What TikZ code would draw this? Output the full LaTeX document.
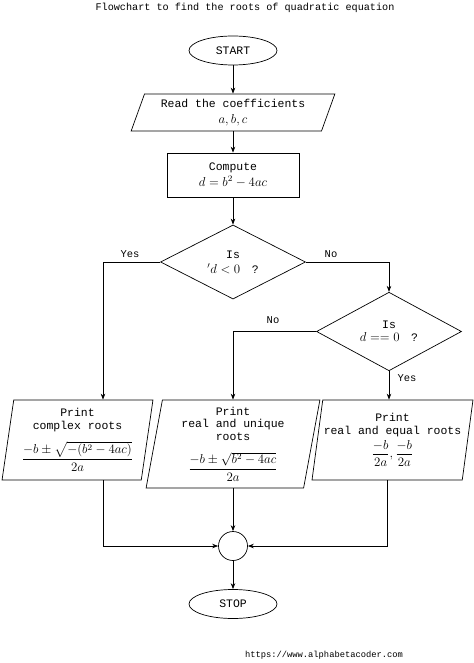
\documentclass[tikz,border=0pt]{standalone}
\usepackage{amsmath}
\usepackage{graphicx}
\usepackage{fontspec}
\setmonofont{Liberation Mono}
\usetikzlibrary{shapes.geometric,arrows.meta}
\newcommand\mth[1]{{\fontsize{12}{14}\selectfont\scalebox{1.08}{$#1$}}}
\begin{document}
\begin{tikzpicture}[x=1bp,y=-1bp,
  line width=0.7bp,
  base/.style={font=\ttfamily\fontsize{11.5}{13}\selectfont, align=center, inner sep=1bp},
  term/.style={base, draw, ellipse, minimum width=88bp, minimum height=29bp},
  io/.style={base, draw, trapezium, trapezium stretches=true},
  proc/.style={base, draw, rectangle, minimum width=132bp, minimum height=44bp},
  decide/.style={base, draw, diamond, inner sep=0bp},
  connector/.style={draw, circle, minimum size=29bp, inner sep=0bp},
  lab/.style={font=\ttfamily\fontsize{10.5}{12}\selectfont, inner sep=0bp},
  arr/.style={-{Stealth[length=6bp,width=4.5bp]}}
]
\useasboundingbox (0,0) rectangle (474,663);

\node[font=\ttfamily\fontsize{10.2}{12}\selectfont, inner sep=0bp] (title) at (245,8) {Flowchart to find the roots of quadratic equation};

\node[term] (start) at (233,50.5) {START};
\node[io, trapezium left angle=69, trapezium right angle=111, minimum width=204bp, minimum height=37bp] (read) at (233,112.5) {Read the coefficients\\[3bp]\mth{a, b, c}};
\node[proc] (comp) at (233,175) {Compute\\[3bp]\mth{d=b^2-4ac}};
\node[decide, minimum width=145bp, minimum height=58bp] (d1) at (233,262) {Is\\[2bp]\mth{{}'d<0}\quad?};
\node[decide, minimum width=145bp, minimum height=65bp] (d2) at (389,331.5) {Is\\\mth{d==0}\quad?};

\node[io, trapezium left angle=81, trapezium right angle=99, minimum width=151bp, minimum height=80bp] (pc) at (77.5,440) {Print\\complex roots\\[9bp]\mth{\dfrac{-b\pm\sqrt{-(b^2-4ac)}}{2a}}};
\node[io, trapezium left angle=81, trapezium right angle=99, minimum width=174bp, minimum height=88bp] (pu) at (233,444) {Print\\real and unique\\roots\\[10bp]\mth{\dfrac{-b\pm\sqrt{b^2-4ac}}{2a}}};
\node[io, trapezium left angle=79, trapezium right angle=101, minimum width=159bp, minimum height=80bp] (pe) at (392.5,440) {Print\\real and equal roots\\[2bp]\mth{\dfrac{-b}{2a},\dfrac{-b}{2a}}};

\node[connector] (c) at (233,546) {};
\node[term] (stop) at (233,604) {STOP};

\node[font=\ttfamily\fontsize{8.8}{10}\selectfont, inner sep=0bp] (url) at (324,655) {https://www.alphabetacoder.com};

\draw[arr] (start.south) -- (start.south |- read.north);
\draw[arr] (comp.north |- read.south) -- (comp.north);
\draw[arr] (comp.south) -- (d1.north);
\draw[arr] (d1.west) -| (103,0 |- pc.north);
\draw[arr] (d1.east) -| (d2.north);
\draw[arr] (d2.west) -| (pu.center |- pu.north);
\draw[arr] (d2.south) -- (d2.south |- pe.north);

\node[lab] (yes1) at (130,254) {Yes};
\node[lab] (no1) at (331,254) {No};
\node[lab] (no2) at (273,320) {No};
\node[lab] (yes2) at (407,378) {Yes};

\draw[arr] (103,0 |- pc.south) |- (c.west);
\draw[arr] (pu.center |- pu.south) -- (c.north);
\draw[arr] (387,0 |- pe.south) |- (c.east);
\draw[arr] (c.south) -- (stop.north);
\end{tikzpicture}
\end{document}
